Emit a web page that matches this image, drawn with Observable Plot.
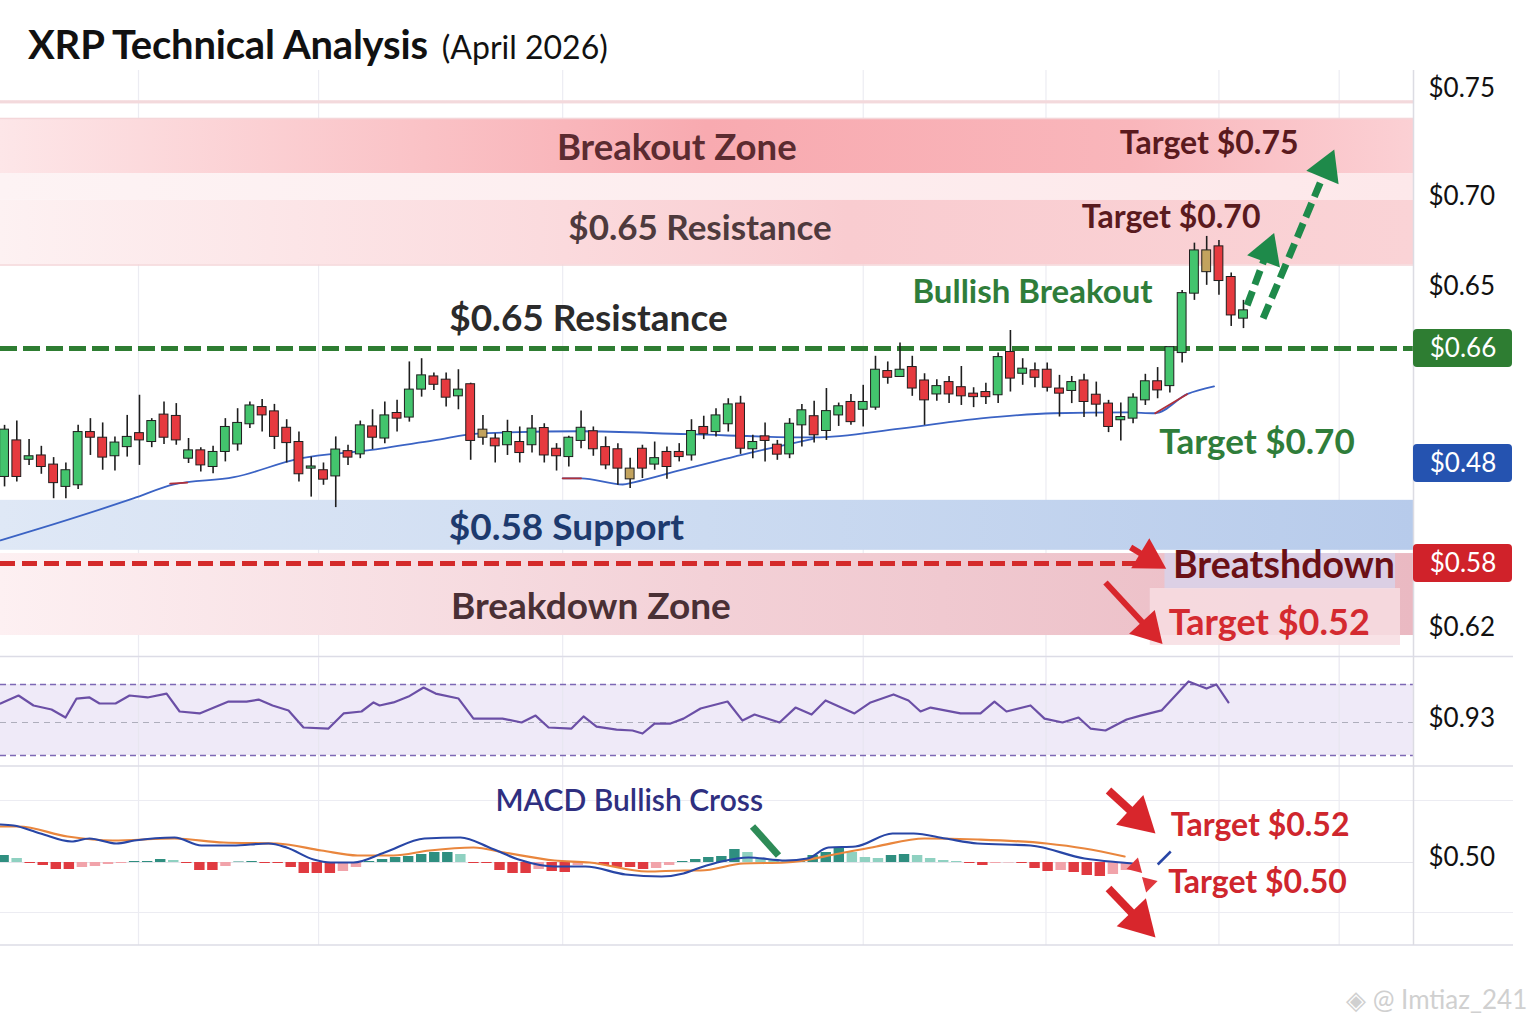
<!DOCTYPE html>
<html><head><meta charset="utf-8">
<script src="https://cdn.jsdelivr.net/npm/d3@7"></script>
<script src="https://cdn.jsdelivr.net/npm/@observablehq/plot@0.6"></script>
<style>
body{margin:0;background:#fff;}
#wrap{position:relative;width:1536px;height:1024px;overflow:hidden;background:#fff;font-family:Lato,"Open Sans",sans-serif;}
#title{position:absolute;left:28px;top:24px;font-size:40px;font-weight:700;color:#111;white-space:nowrap;line-height:1;letter-spacing:-0.2px}
#title span{font-size:32px;font-weight:400;margin-left:14px;letter-spacing:0}
.panel{position:absolute;left:0}
#wm{position:absolute;left:1346px;top:983px;font-size:26px;color:#d0d0d0;white-space:nowrap}
</style></head><body><div id="wrap">
<div id="title">XRP Technical Analysis<span>(April 2026)</span></div>
<div id="main" class="panel" style="top:70px"></div>
<div id="rsi" class="panel" style="top:657px"></div>
<div id="macd" class="panel" style="top:765px"></div>
<div id="wm">◈ @ Imtiaz_241</div>
</div>
<script>
// ---------- DATA ----------
const candleOpen = [0.6122,0.6258,0.6186,0.6202,0.6168,0.6085,0.6091,0.6289,0.6268,0.6199,
0.6233,0.6285,0.6252,0.6354,0.6349,0.6190,0.6221,0.6159,0.6215,0.6243,
0.6318,0.6382,0.6366,0.6305,0.6252,0.6153,0.6147,0.6124,0.6218,0.6206,
0.6310,0.6265,0.6360,0.6343,0.6447,0.6496,0.6484,0.6422,0.6467,0.6268,
0.6265,0.6240,0.6252,0.6240,0.6304,0.6227,0.6196,0.6256,0.6292,0.6233,
0.6225,0.6113,0.6227,0.6168,0.6215,0.6215,0.6202,0.6308,0.6289,0.6318,
0.6395,0.6225,0.6273,0.6242,0.6206,0.6314,0.6348,0.6293,0.6351,0.6401,
0.6372,0.6380,0.6516,0.6494,0.6531,0.6481,0.6429,0.6475,0.6456,0.6432,
0.6438,0.6426,0.6587,0.6506,0.6519,0.6521,0.6451,0.6442,0.6481,0.6428,
0.6395,0.6333,0.6339,0.6407,0.6478,0.6460,0.6583,0.6804,0.6884,0.6980,
0.6866,0.6711];
const candleHigh = [0.6314,0.6330,0.6261,0.6236,0.6194,0.6174,0.6314,0.6339,0.6323,0.6271,
0.6351,0.6426,0.6339,0.6401,0.6395,0.6265,0.6231,0.6236,0.6339,0.6376,
0.6401,0.6410,0.6392,0.6335,0.6289,0.6196,0.6174,0.6271,0.6240,0.6330,
0.6372,0.6401,0.6407,0.6550,0.6562,0.6509,0.6509,0.6521,0.6471,0.6351,
0.6283,0.6333,0.6308,0.6351,0.6320,0.6246,0.6273,0.6367,0.6308,0.6271,
0.6246,0.6192,0.6240,0.6252,0.6233,0.6246,0.6335,0.6348,0.6376,0.6413,
0.6422,0.6277,0.6323,0.6258,0.6339,0.6392,0.6404,0.6451,0.6397,0.6429,
0.6463,0.6571,0.6550,0.6620,0.6571,0.6506,0.6484,0.6496,0.6533,0.6454,
0.6471,0.6583,0.6667,0.6562,0.6546,0.6546,0.6500,0.6496,0.6504,0.6475,
0.6407,0.6397,0.6432,0.6504,0.6529,0.6605,0.6816,0.6992,0.7017,0.7002,
0.6881,0.6779];
const candleLow = [0.6085,0.6103,0.6165,0.6132,0.6041,0.6041,0.6075,0.6202,0.6147,0.6144,
0.6196,0.6165,0.6231,0.6243,0.6240,0.6172,0.6140,0.6134,0.6178,0.6218,
0.6302,0.6289,0.6224,0.6174,0.6103,0.6047,0.6091,0.6008,0.6165,0.6190,
0.6224,0.6246,0.6289,0.6326,0.6419,0.6444,0.6382,0.6372,0.6184,0.6240,
0.6174,0.6202,0.6174,0.6211,0.6174,0.6144,0.6159,0.6227,0.6199,0.6149,
0.6091,0.6079,0.6116,0.6147,0.6113,0.6178,0.6181,0.6261,0.6271,0.6289,
0.6206,0.6190,0.6178,0.6184,0.6190,0.6233,0.6248,0.6258,0.6310,0.6314,
0.6308,0.6370,0.6467,0.6494,0.6422,0.6314,0.6404,0.6395,0.6388,0.6380,
0.6392,0.6395,0.6438,0.6463,0.6454,0.6438,0.6345,0.6395,0.6343,0.6345,
0.6287,0.6256,0.6320,0.6388,0.6413,0.6434,0.6546,0.6779,0.6835,0.6798,
0.6682,0.6674];
const candleClose = [0.6298,0.6122,0.6199,0.6159,0.6099,0.6147,0.6289,0.6268,0.6194,0.6250,
0.6271,0.6258,0.6330,0.6268,0.6258,0.6221,0.6165,0.6215,0.6308,0.6323,
0.6388,0.6351,0.6271,0.6248,0.6132,0.6161,0.6112,0.6224,0.6194,0.6314,
0.6268,0.6351,0.6339,0.6447,0.6500,0.6465,0.6417,0.6447,0.6256,0.6298,
0.6236,0.6289,0.6211,0.6302,0.6202,0.6199,0.6268,0.6305,0.6225,0.6165,
0.6153,0.6153,0.6153,0.6192,0.6159,0.6196,0.6293,0.6281,0.6351,0.6392,
0.6227,0.6252,0.6256,0.6205,0.6320,0.6370,0.6277,0.6367,0.6385,0.6326,
0.6401,0.6521,0.6491,0.6521,0.6451,0.6407,0.6460,0.6429,0.6422,0.6419,
0.6419,0.6568,0.6488,0.6525,0.6491,0.6454,0.6432,0.6475,0.6401,0.6391,
0.6308,0.6345,0.6417,0.6478,0.6444,0.6605,0.6806,0.6965,0.6965,0.6851,
0.6723,0.6742];
const mixedCandles = [39, 51, 98];

// moving averages (x = candle index, y = price)
const ma1X = [-0.33,2.36,10.5,13.8,18.7,24.1,29.6,35.0,38.8,47.0,55.7,66.0,73.0,79.6,85.5,91.5,93.8,96.4,98.6];
const ma1Y = [0.5886,0.5923,0.6042,0.6094,0.6121,0.6191,0.6221,0.6258,0.6284,0.6292,0.6281,0.6269,0.6302,0.6340,0.6359,0.6362,0.6359,0.6430,0.6459];
const ma2X = [45.5,47.0,50.4,51.3,55.1,60.6,66.0];
const ma2Y = [0.6117,0.6117,0.6094,0.6102,0.6147,0.6210,0.6265];
const maRedX = [[13.5,14.9],[45.5,47.0],[93.8,96.4]];
const maRedY = [[0.6097,0.6101],[0.6117,0.6117],[0.6359,0.6430]];

// price levels & zones
const resistanceLine = 0.66;
const supportLine = 0.58;
const zoneNames = ["topLine","breakout","gap","resistance","support","breakdown"];
const zoneLo = [0.7510,0.7251,0.7151,0.6911,0.5849,0.5532];
const zoneHi = [0.7522,0.7456,0.7251,0.7151,0.6035,0.5837];

// right-axis labels
const axisTickValues = [0.7567,0.7166,0.6831,0.5562];
const axisTickLabels = ["$0.75","$0.70","$0.65","$0.62"];
const badgeValues = [0.66,0.6172,0.58];
const badgeLabels = ["$0.66","$0.48","$0.58"];
const rsiTickValues = [50.8]; const rsiTickLabels = ["$0.93"];
const macdTickValues = [0.05]; const macdTickLabels = ["$0.50"];

// RSI
const rsiX = [-0.33,1.14,2.36,3.83,4.97,5.87,6.93,7.74,9.05,10.19,11.66,13.21,14.27,15.90,18.26,19.73,20.71,21.85,23.15,24.37,26.41,27.64,29.10,30.08,30.57,31.71,32.93,34.16,35.14,37.01,38.23,40.60,42.15,43.29,44.35,46.22,47.20,48.26,49.89,51.19,52.01,52.99,54.29,55.35,56.74,58.94,60.16,61.14,63.18,64.48,65.79,66.93,69.29,70.60,72.47,73.69,74.67,75.49,77.93,79.56,80.70,81.68,83.64,84.78,86.25,87.55,88.53,89.75,91.47,92.61,94.32,96.52,97.99,98.79,99.77];
const rsiV = [59.3,63.8,58.2,55.9,51.4,62.1,62.7,59.3,59.3,63.8,62.7,64.9,54.8,53.7,60.4,60.4,61.5,58.2,55.4,45.8,45.2,53.7,54.8,59.9,58.2,59.9,63.2,68.3,64.9,62.1,50.8,50.8,48.6,52.5,45.8,45.2,52.0,46.3,44.6,44.1,42.4,48.0,48.0,50.8,56.5,60.4,49.7,53.1,48.6,57.0,53.1,61.0,53.7,59.9,64.4,61.0,54.8,57.0,53.7,53.7,60.4,54.8,58.2,50.8,48.6,51.4,45.2,44.1,50.3,52.5,55.4,71.7,67.7,70.0,59.9];
const rsiUpper = 70, rsiLower = 30, rsiMid = 48.6;

// MACD (x = histogram bar number)
const macdX = [-0.28,0.72,2.79,5.16,6.54,8.61,9.99,13.06,15.13,17.50,20.26,21.64,23.71,25.01,26.77,29.15,32.21,34.97,37.35,39.42,42.18,44.55,47.62,50.38,52.06,53.36,54.97,57.04,59.88,61.56,63.17,65.24,68.08,69.69,72.14,74.59,78.65,82.79,85.63,86.47];
const macdV = [0.38,0.37,0.29,0.21,0.24,0.19,0.22,0.25,0.17,0.17,0.19,0.15,0.03,0.00,0.00,0.10,0.24,0.25,0.14,0.03,-0.04,-0.04,-0.12,-0.14,-0.11,-0.05,0.01,0.05,0.02,0.04,0.15,0.16,0.29,0.29,0.24,0.19,0.17,0.04,0.00,-0.01];
const signalX = [-0.28,1.10,4.86,8.31,13.06,16.81,20.95,24.32,27.08,29.84,32.60,35.97,38.34,42.18,44.86,49.30,52.06,53.36,56.66,59.88,64.02,66.85,70.53,74.59,79.88,82.79,85.86];
const signalV = [0.36,0.36,0.26,0.22,0.24,0.20,0.19,0.12,0.07,0.07,0.12,0.15,0.10,0.02,0.00,-0.09,-0.08,-0.08,-0.01,0.00,0.09,0.16,0.24,0.23,0.19,0.14,0.06];
const histV = [0.07,0.04,-0.01,-0.03,-0.07,-0.07,-0.05,-0.04,-0.02,-0.01,0.01,0.01,0.03,0.02,-0.01,-0.08,-0.08,-0.04,0.005,0.01,-0.01,-0.01,-0.05,-0.11,-0.11,-0.11,-0.09,-0.05,0.01,0.03,0.05,0.06,0.08,0.10,0.10,0.08,-0.01,-0.01,-0.08,-0.11,-0.11,-0.07,-0.09,-0.10,-0.03,-0.01,-0.03,-0.05,-0.05,-0.07,-0.06,-0.03,0.01,0.03,0.05,
0.06,0.13,0.10,0.04,0.02,0.01,0.01,0.07,0.10,0.14,0.10,0.05,0.04,0.07,0.08,0.07,0.04,0.02,0.01,-0.01,-0.03,-0.01,-0.005,-0.01,-0.06,-0.09,-0.08,-0.10,-0.13,-0.14,-0.12,-0.08];

// annotations (main panel: x = candle index, y = price)
const mainNoteText = ["Breakout Zone","$0.65 Resistance","$0.65 Resistance","Bullish Breakout","Target $0.75","Target $0.70","Target $0.70","$0.58 Support","Breakdown Zone","Breatshdown","Target $0.52"];
const mainNoteX = [54.8,56.7,47.6,83.8,98.2,95.1,102.1,45.8,47.8,104.3,103.1];
const mainNoteY = [0.7344,0.7047,0.6708,0.6808,0.7363,0.7088,0.6250,0.5930,0.5636,0.5789,0.5577];
const noteBoxX1 = [94.6,93.4], noteBoxX2 = [113.4,113.8];
const noteBoxY1 = [0.5703,0.5495], noteBoxY2 = [0.5837,0.5707];
const upArrows = [{x1:101.3,y1:0.6761,x2:103.5,y2:0.7030},{x1:102.6,y1:0.6712,x2:108.4,y2:0.7340}];
const downArrows = [{x1:91.8,y1:0.5860,x2:94.7,y2:0.5780},{x1:89.75,y1:0.5729,x2:94.4,y2:0.5500}];
const supportDashEnd = 92.6;
const gridIdx = [10.92,25.6,45.5,70.0,84.9,99.0,108.8];

// MACD annotations (x = bar number, y = MACD value)
const macdNoteText = ["MACD Bullish Cross","Target $0.52","Target $0.50"];
const macdNoteX = [47.9,89.4,89.2];
const macdNoteY = [0.61,0.37,-0.20];
const macdArrows = [{x1:84.63,y1:0.72,x2:88.23,y2:0.29},{x1:84.63,y1:-0.26,x2:88.23,y2:-0.75}];
const crossMark = [{x1:57.35,y1:0.36,x2:59.34,y2:0.07}];
const blueTick = [{x1:88.4,y1:-0.02,x2:89.4,y2:0.11}];
const smallHeads = [{x:86.7,y:-0.04,rot:135},{x:87.7,y:-0.21,rot:-45}];

// ---------- LAYOUT / STYLE ----------
const W = 1536, plotRight = 1413, sepRight = 1513;
const mainH = 587, rsiH = 108, macdH = 180;
const xDom = [-0.33, 114.86];
const kx = plotRight / (xDom[1]-xDom[0]);
const xSep = xDom[0] + sepRight / kx;
const xBadge = xDom[0] + 1512 / kx;
const yDom = [0.54502, 0.76344];
const ky = mainH / (yDom[1]-yDom[0]);
const rsiDom = [24.4, 85.2];
const macdXDom = [-0.276, 108.0];
const mkx = plotRight / (macdXDom[1]-macdXDom[0]);
const macdXSep = macdXDom[0] + sepRight / mkx;
const macdDom = [-0.83, 0.97];
const mky = macdH / (macdDom[1]-macdDom[0]);
const toBar = i => macdXDom[0] + (i - xDom[0]) * kx / mkx;

const FONT = "Lato, 'Open Sans', sans-serif";
const GREEN = "#43c46d", RED = "#e63a3f", MIXED = "#c2a35e";
const zonePlaceholders = ["#fe0001","#fe0002","#fe0003","#fe0004","#fe0005","#fe0006"];
const zoneGradients = [
  [[0,"#f3d9dc"],[1,"#f3d9dc"]],
  [[0,"#fde6e8"],[0.3,"#fac2c6"],[0.5,"#f8aab0"],[0.8,"#f9b6bb"],[1,"#fbd0d4"]],
  [[0,"#fdf3f4"],[1,"#fde8ea"]],
  [[0,"#fdf1f2"],[0.4,"#fbdadd"],[0.6,"#f9ccd0"],[1,"#fad3d6"]],
  [[0,"#dfe8f6"],[0.5,"#ccdbf1"],[1,"#b7cbeb"]],
  [[0,"#fdf0f2"],[0.5,"#f3d1d7"],[1,"#eab9c2"]]
];
const noteStyle = [
  {fill:"#5b2b30",size:36.5,weight:700},
  {fill:"#4e3a3d",size:35,weight:700},
  {fill:"#2b2b2b",size:37,weight:700},
  {fill:"#2f7d3a",size:33,weight:700},
  {fill:"#5a1a1e",size:32,weight:700},
  {fill:"#5a1a1e",size:32,weight:700},
  {fill:"#2f7d3a",size:35,weight:700},
  {fill:"#1d3a6e",size:37,weight:700},
  {fill:"#4a3035",size:37,weight:700},
  {fill:"#6b1015",size:37.5,weight:700},
  {fill:"#d42a30",size:36,weight:700}
];
const noteBoxFill = ["#d8d2ea","#f7dde2"];
const badgeFill = ["#2e7d32","#2553b0","#d0222a"];

const candles = candleOpen.map((o,i)=>({i, open:o, high:candleHigh[i], low:candleLow[i], close:candleClose[i]}));
const candleColor = d => mixedCandles.includes(d.i) ? MIXED : (d.close >= d.open ? GREEN : RED);

function addGradients(svg) {
  const ns = "http://www.w3.org/2000/svg";
  const defs = document.createElementNS(ns,"defs");
  zonePlaceholders.forEach((ph,k)=>{
    const lg = document.createElementNS(ns,"linearGradient");
    lg.setAttribute("id","zg"+k);
    lg.setAttribute("x1","0"); lg.setAttribute("x2","1"); lg.setAttribute("y1","0"); lg.setAttribute("y2","0");
    zoneGradients[k].forEach(([o,c])=>{
      const s = document.createElementNS(ns,"stop");
      s.setAttribute("offset",o); s.setAttribute("stop-color",c); lg.appendChild(s);
    });
    defs.appendChild(lg);
    svg.querySelectorAll(`[fill="${ph}"]`).forEach(el=>el.setAttribute("fill",`url(#zg${k})`));
  });
  svg.insertBefore(defs, svg.firstChild);
}

// arrow = shaft (link) + filled triangular head whose apex sits on the tip
function arrowMarks(arr, color, width, head, dash, sx, sy) {
  const side = Math.sqrt(4*Math.PI*head*head/Math.sqrt(3));
  const back = (side*Math.sqrt(3)/2) * 2/3;
  const withHead = arr.map(d => {
    const dx = (d.x2-d.x1)*sx, dy = (d.y2-d.y1)*sy, L = Math.hypot(dx,dy);
    return {...d, hx: d.x2 - dx/L*back/sx, hy: d.y2 - dy/L*back/sy, rot: Math.atan2(dx,dy)*180/Math.PI};
  });
  return [
    Plot.link(withHead, {x1:"x1",y1:"y1",x2:"hx",y2:"hy",stroke:color,strokeWidth:width,strokeDasharray:dash,strokeLinecap:"butt"}),
    Plot.dot(withHead, {x:"hx",y:"hy",symbol:"triangle",r:head,fill:color,stroke:"none",rotate:"rot"})
  ];
}

// ---------- MAIN PANEL ----------
const zones = zoneNames.map((n,k)=>({n, lo:zoneLo[k], hi:zoneHi[k], k}));
const tickMap = new Map(axisTickValues.map((v,k)=>[v,axisTickLabels[k]]));
const badges = badgeValues.map((v,k)=>({v,label:badgeLabels[k],k}));
const badgeHalf = 19 / ky;
const mainNotes = mainNoteText.map((t,k)=>({t,x:mainNoteX[k],y:mainNoteY[k],k}));
const noteBoxes = noteBoxX1.map((x1,k)=>({x1,x2:noteBoxX2[k],y1:noteBoxY1[k],y2:noteBoxY2[k],k}));
const ma1 = ma1X.map((x,k)=>({x,y:ma1Y[k]}));
const ma2 = ma2X.map((x,k)=>({x,y:ma2Y[k]}));
const maRed = maRedX.flatMap((xs,s)=>xs.map((x,j)=>({x,y:maRedY[s][j],s})));

const mainMarks = [
  Plot.ruleX(gridIdx, {stroke:"#ececf2", strokeWidth:1.2}),
  ...zones.map(z => Plot.rect([z], {x1:xDom[0], x2:xDom[1], y1:"lo", y2:"hi", fill:zonePlaceholders[z.k]})),
  Plot.ruleY([zoneHi[1], zoneLo[3]], {x1:xDom[0], x2:xDom[1], stroke:"#f4d6d9", strokeWidth:1.5}),
  ...noteBoxes.map(b => Plot.rect([b], {x1:"x1",x2:"x2",y1:"y1",y2:"y2",fill:noteBoxFill[b.k], fillOpacity:0.85})),
  Plot.ruleY([resistanceLine], {x1:xDom[0], x2:xDom[1], stroke:"#2e7d32", strokeWidth:5, strokeDasharray:"17,6"}),
  Plot.ruleY([supportLine], {x1:xDom[0], x2:supportDashEnd, stroke:"#d42a2a", strokeWidth:5, strokeDasharray:"15,7"}),
  Plot.line(ma1, {x:"x", y:"y", stroke:"#3b63c4", strokeWidth:1.8, curve:"monotone-x"}),
  Plot.line(ma2, {x:"x", y:"y", stroke:"#3b63c4", strokeWidth:1.8, curve:"monotone-x"}),
  Plot.line(maRed, {x:"x", y:"y", z:"s", stroke:"#b0303a", strokeWidth:1.8}),
  Plot.ruleX(candles, {x:"i", y1:"low", y2:"high", stroke:"#1e1e1e", strokeWidth:1.6}),
  Plot.rect(candles, {x1:d=>d.i-0.36, x2:d=>d.i+0.36, y1:"open", y2:"close", fill:candleColor, stroke:"#1e1e1e", strokeWidth:1}),
  ...arrowMarks(upArrows, "#1e8a4a", 7, 13, "15,7", kx, ky),
  ...arrowMarks(downArrows, "#d8262c", 6, 13, null, kx, ky),
  ...mainNotes.map(n => Plot.text([n], {x:"x", y:"y", text:"t", fill:noteStyle[n.k].fill, fontSize:noteStyle[n.k].size, fontWeight:noteStyle[n.k].weight, fontFamily:FONT})),
  Plot.ruleX([xDom[1]], {stroke:"#dcdce3", strokeWidth:1.5}),
  Plot.ruleY([yDom[0]+0.0004], {x1:xDom[0], x2:xSep, stroke:"#dcdce6", strokeWidth:1.5}),
  ...badges.map(b => Plot.rect([b], {x1:xDom[1], x2:xBadge, y1:d=>d.v-badgeHalf, y2:d=>d.v+badgeHalf, fill:badgeFill[b.k], rx:4})),
  Plot.text(badges, {x:(xDom[1]+xBadge)/2, y:"v", text:"label", fill:"white", fontSize:26, fontFamily:FONT}),
  Plot.axisY({anchor:"right", ticks:axisTickValues, tickFormat:d=>tickMap.get(d), tickSize:0, tickPadding:15, fontSize:26, fill:"#111", label:null, fontFamily:FONT})
];

const mainSvg = Plot.plot({
  width: W, height: mainH, marginLeft:0, marginRight: W-plotRight, marginTop:0, marginBottom:0,
  x: {domain: xDom, axis: null},
  y: {domain: yDom},
  style: {fontFamily: FONT, background:"transparent", overflow:"visible"},
  marks: mainMarks
});
addGradients(mainSvg);
document.getElementById("main").appendChild(mainSvg);

// ---------- RSI PANEL ----------
const rsi = rsiX.map((x,k)=>({x,v:rsiV[k]}));
const rsiMap = new Map(rsiTickValues.map((v,k)=>[v,rsiTickLabels[k]]));
const rsiSvg = Plot.plot({
  width: W, height: rsiH, marginLeft:0, marginRight: W-plotRight, marginTop:0, marginBottom:0,
  x: {domain: xDom, axis: null},
  y: {domain: rsiDom},
  style: {fontFamily: FONT, background:"transparent", overflow:"visible"},
  marks: [
    Plot.rect([{lo:rsiLower, hi:rsiUpper}], {x1:xDom[0], x2:xDom[1], y1:"lo", y2:"hi", fill:"#efeaf8"}),
    Plot.ruleX(gridIdx, {stroke:"#e8e6f0", strokeWidth:1.2}),
    Plot.ruleY([rsiUpper, rsiLower], {x1:xDom[0], x2:xDom[1], stroke:"#7d68b5", strokeWidth:1.5, strokeDasharray:"6,4"}),
    Plot.ruleY([rsiMid], {x1:xDom[0], x2:xDom[1], stroke:"#aeaebc", strokeWidth:1.2, strokeDasharray:"6,5"}),
    Plot.line(rsi, {x:"x", y:"v", stroke:"#6b4fa6", strokeWidth:2.2}),
    Plot.ruleX([xDom[1]], {stroke:"#dcdce3", strokeWidth:1.5}),
    Plot.axisY({anchor:"right", ticks:rsiTickValues, tickFormat:d=>rsiMap.get(d), tickSize:0, tickPadding:15, fontSize:26, fill:"#111", label:null, fontFamily:FONT})
  ]
});
document.getElementById("rsi").appendChild(rsiSvg);

// ---------- MACD PANEL ----------
const macd = macdX.map((x,k)=>({x,v:macdV[k]}));
const signal = signalX.map((x,k)=>({x,v:signalV[k]}));
const hist = histV.map((v,k)=>{
  const prev = k ? histV[k-1] : 0;
  const fill = v >= 0 ? (v >= prev ? "#2f8f80" : "#8fd1c1") : (v <= prev ? "#e03a40" : "#f1a3aa");
  return {k, v, fill};
});
const macdMap = new Map(macdTickValues.map((v,k)=>[v,macdTickLabels[k]]));
const macdNoteStyle = [
  {fill:"#2f2f80",size:30,weight:600,anchor:"middle"},
  {fill:"#cf262d",size:32,weight:700,anchor:"start"},
  {fill:"#cf262d",size:32,weight:700,anchor:"start"}
];
const macdNotes = macdNoteText.map((t,k)=>({t,x:macdNoteX[k],y:macdNoteY[k],k}));
const macdSvg = Plot.plot({
  width: W, height: macdH, marginLeft:0, marginRight: W-plotRight, marginTop:0, marginBottom:0,
  x: {domain: macdXDom, axis: null},
  y: {domain: macdDom},
  style: {fontFamily: FONT, background:"transparent", overflow:"visible"},
  marks: [
    Plot.ruleX(gridIdx.map(toBar), {stroke:"#ececf2", strokeWidth:1.2}),
    Plot.ruleY([macdDom[1]-0.005], {x1:macdXDom[0], x2:macdXSep, stroke:"#dcdce6", strokeWidth:1.5}),
    Plot.ruleY([0.62, -0.50], {x1:macdXDom[0], x2:macdXSep, stroke:"#ececf2", strokeWidth:1.2}),
    Plot.ruleY([0], {x1:macdXDom[0], x2:macdXDom[1], stroke:"#e4e4ea", strokeWidth:1}),
    Plot.rect(hist, {x1:d=>d.k-0.4, x2:d=>d.k+0.4, y1:0, y2:"v", fill:"fill"}),
    Plot.line(signal, {x:"x", y:"v", stroke:"#e9863d", strokeWidth:2.2, curve:"monotone-x"}),
    Plot.line(macd, {x:"x", y:"v", stroke:"#2846a6", strokeWidth:2.2, curve:"monotone-x"}),
    Plot.link(crossMark, {x1:"x1",y1:"y1",x2:"x2",y2:"y2", stroke:"#2e8b57", strokeWidth:7}),
    Plot.link(blueTick, {x1:"x1",y1:"y1",x2:"x2",y2:"y2", stroke:"#2846a6", strokeWidth:2.5}),
    ...arrowMarks(macdArrows, "#d8262c", 8, 15, null, mkx, mky),
    Plot.dot(smallHeads, {x:"x", y:"y", symbol:"triangle", r:6, fill:"#e0373d", rotate:"rot"}),
    ...macdNotes.map(n => Plot.text([n], {x:"x", y:"y", text:"t", fill:macdNoteStyle[n.k].fill, fontSize:macdNoteStyle[n.k].size, fontWeight:macdNoteStyle[n.k].weight, textAnchor:macdNoteStyle[n.k].anchor, fontFamily:FONT})),
    Plot.ruleX([macdXDom[1]], {stroke:"#dcdce3", strokeWidth:1.5}),
    Plot.ruleY([macdDom[0]+0.005], {x1:macdXDom[0], x2:macdXSep, stroke:"#dcdce6", strokeWidth:1.5}),
    Plot.axisY({anchor:"right", ticks:macdTickValues, tickFormat:d=>macdMap.get(d), tickSize:0, tickPadding:15, fontSize:26, fill:"#111", label:null, fontFamily:FONT})
  ]
});
document.getElementById("macd").appendChild(macdSvg);
</script>
</body></html>
